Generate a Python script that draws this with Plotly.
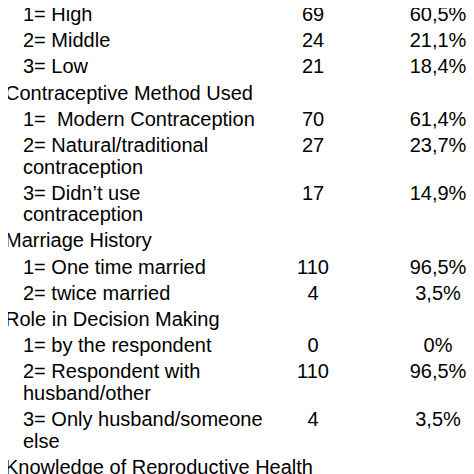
import plotly.graph_objects as go

labels = [["1= High"], ["2= Middle"], ["3= Low"],
          ["Contraceptive Method Used"],
          ["1=  Modern Contraception"], ["2= Natural/traditional", "contraception"],
          ["3= Didn’t use", "contraception"],
          ["Marriage History"],
          ["1= One time married"], ["2= twice married"],
          ["Role in Decision Making"],
          ["1= by the respondent"], ["2= Respondent with", "husband/other"],
          ["3= Only husband/someone", "else"],
          ["Knowledge of Reproductive Health"]]
counts = ["69", "24", "21", "", "70", "27", "17", "", "110", "4", "", "0", "110", "4", ""]
percents = ["60,5%", "21,1%", "18,4%", "", "61,4%", "23,7%", "14,9%", "", "96,5%", "3,5%", "", "0%", "96,5%", "3,5%", ""]
headers = [False, False, False, True, False, False, False, True, False, False, True, False, False, False, True]

ROW = 26.2
WRAP = 21.5
lx, ly, lt = [], [], []
nx, ny, nt = [], [], []
px_, py_, pt = [], [], []
y = 8
for lab, c, p, h in zip(labels, counts, percents, headers):
    x0 = -3 if h else 15
    for i, line in enumerate(lab):
        lx.append(x0); ly.append(y + i * WRAP); lt.append(line)
    nx.append(305); ny.append(y); nt.append(c)
    px_.append(430); py_.append(y); pt.append(p)
    y += ROW + (len(lab) - 1) * WRAP

font = dict(family="Liberation Sans, Arial", size=20, color="black")
fig = go.Figure()
fig.add_trace(go.Scatter(x=lx, y=ly, text=lt, mode="text", textposition="middle right", textfont=font))
fig.add_trace(go.Scatter(x=nx, y=ny, text=nt, mode="text", textposition="middle center", textfont=font))
fig.add_trace(go.Scatter(x=px_, y=py_, text=pt, mode="text", textposition="middle center", textfont=font))
fig.update_layout(width=474, height=474, margin=dict(l=0, r=0, t=0, b=0),
                  paper_bgcolor="white", plot_bgcolor="white", showlegend=False,
                  xaxis=dict(range=[0, 474], visible=False),
                  yaxis=dict(range=[474, 0], visible=False))
fig.write_html("out.html")
